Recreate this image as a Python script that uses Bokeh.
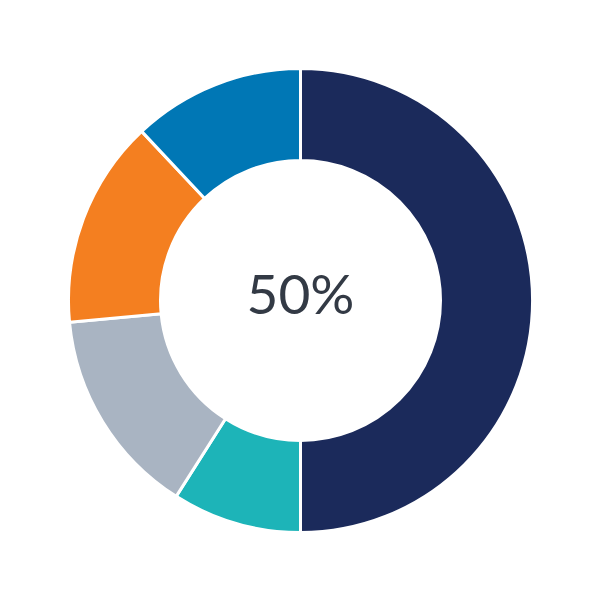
import numpy as np
from bokeh.plotting import figure
from bokeh.models import ColumnDataSource
from bokeh.core.properties import value
from bokeh.embed import file_html
from bokeh.resources import INLINE

# datos del donut, en sentido horario desde arriba
categorias = ["A", "B", "C", "D", "E"]
valores = [50, 9, 14.5, 14.5, 12]
colores = ["#1b2a5b", "#1db4b8", "#a9b4c2", "#f47f20", "#0077b5"]
etiqueta = "50%"

fracciones = np.array(valores) / sum(valores)
fin = np.cumsum(fracciones) * 2 * np.pi
inicio = np.concatenate([[0], fin[:-1]])
# bokeh mide en sentido antihorario desde +x; empezamos arriba y vamos en sentido horario
src = ColumnDataSource(dict(
    cat=categorias,
    start=np.pi / 2 - inicio,
    end=np.pi / 2 - fin,
    color=colores,
))

p = figure(width=584, height=584, x_range=(-300, 284), y_range=(-284, 300),
           output_backend="svg", toolbar_location=None, min_border=0)
p.axis.visible = False
p.grid.visible = False
p.outline_line_color = None

p.annular_wedge(x=0, y=0, inner_radius=140, outer_radius=232,
                start_angle="start", end_angle="end", direction="clock",
                fill_color="color", line_color="white", line_width=3, source=src)

p.text(x=[0], y=[8], text=[etiqueta], text_align="center", text_baseline="middle",
       text_font=value("Lato"), text_font_size="55px", text_color="#333a45")

open("out.html", "w").write(file_html(p, INLINE))
